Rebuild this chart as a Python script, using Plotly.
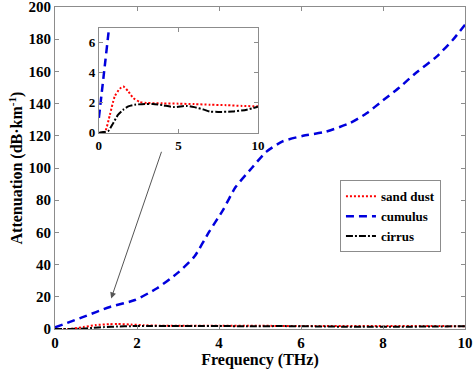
import plotly.graph_objects as go

# ---- data ----
freq_cumulus = [0, 0.3, 0.66, 1.0, 1.34, 1.95, 2.5, 3.0, 3.4, 3.75, 4.1, 4.4, 4.8,
                5.15, 5.55, 6.05, 6.6, 7.2, 7.6, 8.0, 8.4, 8.8, 9.3, 9.7, 10]
cumulus = [1.0, 3.8, 7.2, 10.5, 13.7, 18, 25.5, 35, 45, 60, 74, 88, 100,
           110, 116.5, 120, 122.5, 128, 134, 142, 150, 159, 169, 179.5, 189]

freq_sand = [0, 0.38, 0.69, 1.0, 1.32, 1.53, 1.85, 2.16, 2.58, 3.0, 4.0, 5.0,
             6.0, 7.0, 8.0, 9.0, 10]
sand_dust = [0, 0.09, 1.2, 2.44, 2.95, 3.1, 2.77, 2.33, 2.06, 2.0, 1.97, 1.95,
             1.92, 1.88, 1.85, 1.8, 1.77]

freq_cirrus = [0, 0.17, 0.59, 0.9, 1.2, 1.53, 1.85, 2.26, 2.9, 3.4, 4.0, 4.7,
               5.5, 6.0, 6.6, 7.0, 7.5, 8.4, 9.3, 10]
cirrus = [0, 0.04, 0.13, 0.65, 1.2, 1.54, 1.77, 1.88, 1.93, 1.93, 1.85, 1.72,
          1.8, 1.72, 1.55, 1.42, 1.4, 1.42, 1.55, 1.75]

main_xticks = [0, 2, 4, 6, 8, 10]
main_yticks = [0, 20, 40, 60, 80, 100, 120, 140, 160, 180, 200]
inset_xticks = [0, 5, 10]
inset_yticks = [0, 2, 4, 6]

FONT = "Liberation Serif"

styles = {
    "sand dust": dict(color="#ff0000", width=2, dash="2px,2px"),
    "cumulus": dict(color="#0000dd", width=2.5, dash="8px,5px"),
    "cirrus": dict(color="#000000", width=2, dash="7px,2px,2px,2px"),
}
series = [("sand dust", freq_sand, sand_dust),
          ("cumulus", freq_cumulus, cumulus),
          ("cirrus", freq_cirrus, cirrus)]

fig = go.Figure()
for name, xs, ys in series:
    fig.add_trace(go.Scatter(x=xs, y=ys, name=name, mode="lines",
                             line=dict(shape="spline", smoothing=0.6, **styles[name]),
                             xaxis="x", yaxis="y"))
for name, xs, ys in series:
    fig.add_trace(go.Scatter(x=xs, y=ys, name=name, mode="lines", showlegend=False,
                             line=dict(shape="spline", smoothing=0.6, **styles[name]),
                             xaxis="x2", yaxis="y2"))

def axis_common(size):
    return dict(showline=True, linecolor="#8c8c8c", linewidth=1, mirror="ticks",
                ticks="inside", ticklen=4, tickcolor="#8c8c8c", showgrid=False,
                zeroline=False, automargin=False, ticklabeloverflow="allow",
                tickfont=dict(family=FONT, size=size, color="black", weight="bold"))

fig.update_layout(
    width=474, height=375,
    margin=dict(l=55, r=9, t=7, b=46),
    plot_bgcolor="white", paper_bgcolor="white",
    xaxis=dict(domain=[0, 1], range=[0, 10], tickvals=main_xticks,
               title=dict(text="Frequency (THz)", standoff=2,
                          font=dict(family=FONT, size=16, color="black", weight="bold")),
               **axis_common(15)),
    yaxis=dict(domain=[0, 1], range=[0, 200], tickvals=main_yticks,
               title=dict(text="Attenuation (dB·km<sup>-1</sup>)", standoff=1,
                          font=dict(family=FONT, size=16, color="black", weight="bold")),
               **axis_common(15)),
    xaxis2=dict(domain=[0.107, 0.495], anchor="y2", range=[0, 10], tickvals=inset_xticks,
                **axis_common(13)),
    yaxis2=dict(domain=[0.609, 0.935], anchor="x2", range=[0, 7], tickvals=inset_yticks,
                **axis_common(13)),
    legend=dict(x=0.695, y=0.35, xanchor="left", yanchor="middle",
                bgcolor="white", bordercolor="#8c8c8c", borderwidth=1,
                font=dict(family=FONT, size=13, color="black", weight="bold"),
                tracegroupgap=0),
    showlegend=True,
)

fig.add_annotation(x=1.37, y=19, ax=2.61, ay=111, xref="x", yref="y",
                   axref="x", ayref="y", showarrow=True, arrowhead=2,
                   arrowsize=1.2, arrowwidth=1, arrowcolor="#555555", text="")

# remove the browser's default 8px body margin so the figure sits at the page origin
fig.write_html("out.html", config={"displayModeBar": False},
               post_script="document.body.style.margin='0';")
